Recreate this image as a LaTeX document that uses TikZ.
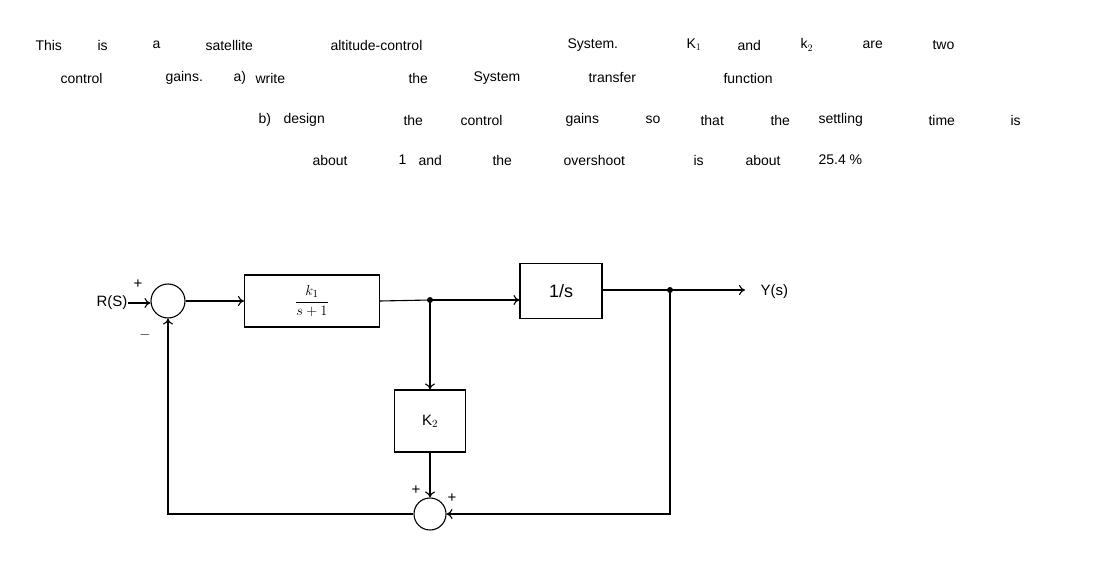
\documentclass[tikz,border=0pt]{standalone}
\usepackage{fontspec}
\setmainfont{Liberation Sans}
\usetikzlibrary{arrows.meta}
\begin{document}
\begin{tikzpicture}[x=1pt,y=-1pt,line width=1.1pt,
  w/.style={anchor=west,inner sep=0pt,font=\fontsize{14}{16}\selectfont},
  blk/.style={draw,minimum width=#1,inner sep=0pt,font=\fontsize{15}{17}\selectfont},
  sum/.style={draw,circle,minimum size=34pt,inner sep=0pt},
  ln/.style={},
  ar/.style={-{To[length=6pt,width=10pt]}},
  lab/.style={inner sep=0pt,font=\fontsize{15}{17}\selectfont}]
\useasboundingbox (0,0) rectangle (1102,567);
% text
\foreach \x/\t [count=\i] in {35/This,97/is,152/a,205/satellite,330/altitude-control,567/System.,686/K$_1$,737/and,800/k$_2$,862/are,932/two}
  \node[w] (a\i) at (\x,45) {\t};
\foreach \x/\t [count=\i] in {60/control,165/gains.,233/a),255/write,408/the,473/System,588/transfer,723/function}
  \node[w] (b\i) at (\x,78) {\t};
\foreach \x/\t [count=\i] in {258/b),283/design,403/the,460/control,565/gains,645/so,700/that,770/the,818/settling,928/time,1010/is}
  \node[w] (c\i) at (\x,120) {\t};
\foreach \x/\t [count=\i] in {312/about,398/1,418/and,492/the,563/overshoot,693/is,745/about,818/25.4 \%}
  \node[w] (d\i) at (\x,160) {\t};
% diagram
\node[sum] (s1) at (168,301) {};
\node[lab,anchor=east] (R) at (128,303) {R(S)};
\node[blk=135pt,minimum height=52pt] (k1) at (312,301) {$\displaystyle\frac{k_1}{s+1}$};
\node[blk=82pt,minimum height=55pt,font=\fontsize{18}{20}\selectfont] (int) at (561,291) {1/s};
\node[blk=71pt,minimum height=62pt] (k2) at (430,421) {K$_2$};
\node[sum,minimum size=32pt] (s2) at (430,514) {};
\coordinate (j1) at (430,300);
\coordinate (j2) at (670,290);
\coordinate (out) at (745,290);
\node[lab,anchor=west] (Y) at (760,292) {Y(s)};
\node[lab] (p1) at (138,284) {+};
\node[lab] (m1) at (145,335) {$-$};
\node[lab] (p2) at (416,490) {+};
\node[lab] (p3) at (452,498) {+};
\fill (j1) circle (3pt) (j2) circle (3pt);
\draw[ar] (R.east) -- (R.east -| s1.west);
\draw[ar] (s1.east) -- (k1.west);
\draw[ln] (k1.east) -- (j1);
\draw[ar] (j1) -- (int.west |- j1);
\draw[ln] (int.east |- j2) -- (j2);
\draw[ar] (j2) -- (out);
\draw[ar] (j1) -- (k2.north);
\draw[ar] (k2.south) -- (s2.north);
\draw[ar] (j2) |- (s2.east);
\draw[ar] (s2.west) -| (s1.south);
\end{tikzpicture}
\end{document}
